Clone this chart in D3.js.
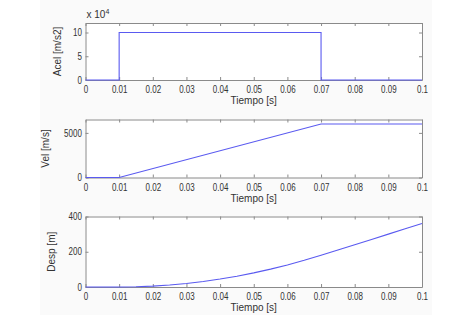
<!DOCTYPE html>
<html><head><meta charset="utf-8">
<script src="https://cdn.jsdelivr.net/npm/d3@7"></script>
<style>body{margin:0;background:#fff}svg{display:block}text{font-family:"Liberation Sans",Arial,sans-serif;fill:#333}</style>
</head><body><svg id="c" width="474" height="325"></svg>
<script>
const xTicks = [0,0.01,0.02,0.03,0.04,0.05,0.06,0.07,0.08,0.09,0.1];
const xTickLabels = ["0","0.01","0.02","0.03","0.04","0.05","0.06","0.07","0.08","0.09","0.1"];
// Acceleration (m/s2)
const accT = [0,0.01,0.01,0.07,0.07,0.1];
const accV = [0,0,100000,100000,0,0];
// Velocity (m/s)
const velT = [0,0.01,0.07,0.1];
const velV = [0,0,6000,6000];
// Displacement (m)
const despT = [0,0.005,0.01,0.015,0.02,0.025,0.03,0.035,0.04,0.045,0.05,0.055,0.06,0.065,0.07,0.075,0.08,0.085,0.09,0.095,0.1];
const despV = [0,0,0,1.25,5,11.25,20,31.25,45,61.25,80,101.25,125,151.25,180,210,240,270,300,330,360];

const panels = [
  {t:accT, v:accV.map(d=>d/1e4), ydom:[0,12], yticks:[0,5,10], ylabel:"Acel [m/s2]", top:23, bottom:80, ylx:61, exp:true},
  {t:velT, v:velV, ydom:[0,6500], yticks:[0,5000], ylabel:"Vel [m/s]", top:119.5, bottom:177.5, ylx:49},
  {t:despT, v:despV, ydom:[0,400], yticks:[0,200,400], ylabel:"Desp [m]", top:216.5, bottom:287, ylx:55}
];
const svg = d3.select("#c");
svg.append("rect").attr("x",40).attr("y",0).attr("width",392).attr("height",315).attr("fill","#fafafa");
const L=85.5, R=422;
const axisCol="#8a8a8a", lineCol="#5a5af0";
panels.forEach(p=>{
  const x=d3.scaleLinear().domain([0,0.1]).range([L,R]);
  const y=d3.scaleLinear().domain(p.ydom).range([p.bottom,p.top]);
  const g=svg.append("g");
  g.append("rect").attr("x",L).attr("y",p.top).attr("width",R-L).attr("height",p.bottom-p.top).attr("fill","#fff");
  const ax=(gen,tr)=>{const a=g.append("g").attr("transform",tr).call(gen);a.select(".domain").attr("stroke",axisCol);a.selectAll(".tick line").attr("stroke",axisCol);return a;};
  const fmt=(d,i)=>xTickLabels[i];
  const bx=ax(d3.axisBottom(x).tickValues(xTicks).tickSize(-3).tickSizeOuter(0).tickPadding(6).tickFormat(fmt),`translate(0,${p.bottom})`);
  bx.selectAll("text").attr("font-size",10).attr("fill","#333").attr("transform","scale(0.8,1)");
  ax(d3.axisTop(x).tickValues(xTicks).tickSize(-3).tickSizeOuter(0).tickFormat(""),`translate(0,${p.top})`);
  const ly=ax(d3.axisLeft(y).tickValues(p.yticks).tickSize(-3).tickSizeOuter(0).tickPadding(4).tickFormat(d3.format("d")),`translate(${L},0)`);
  ly.selectAll("text").attr("font-size",10).attr("fill","#333").attr("x",-4.5).attr("transform","scale(0.8,1)");
  ax(d3.axisRight(y).tickValues(p.yticks).tickSize(-3).tickSizeOuter(0).tickFormat(""),`translate(${R},0)`);
  const line=d3.line().x((d,i)=>x(p.t[i])).y(d=>y(d));
  g.append("path").datum(p.v).attr("d",line).attr("fill","none").attr("stroke",lineCol).attr("stroke-width",1.1);
  g.append("text").attr("x",(L+R)/2).attr("y",p.bottom+24).attr("text-anchor","middle").attr("font-size",10).text("Tiempo [s]");
  g.append("text").attr("transform",`translate(${p.ylx},${(p.top+p.bottom)/2}) rotate(-90)`).attr("text-anchor","middle").attr("font-size",10).text(p.ylabel);
  if(p.exp){
    const t=g.append("text").attr("x",L+1).attr("y",p.top-5).attr("font-size",10);
    t.append("tspan").text("x 10");
    t.append("tspan").attr("font-size",7).attr("dy",-4).text("4");
  }
});
</script></body></html>
